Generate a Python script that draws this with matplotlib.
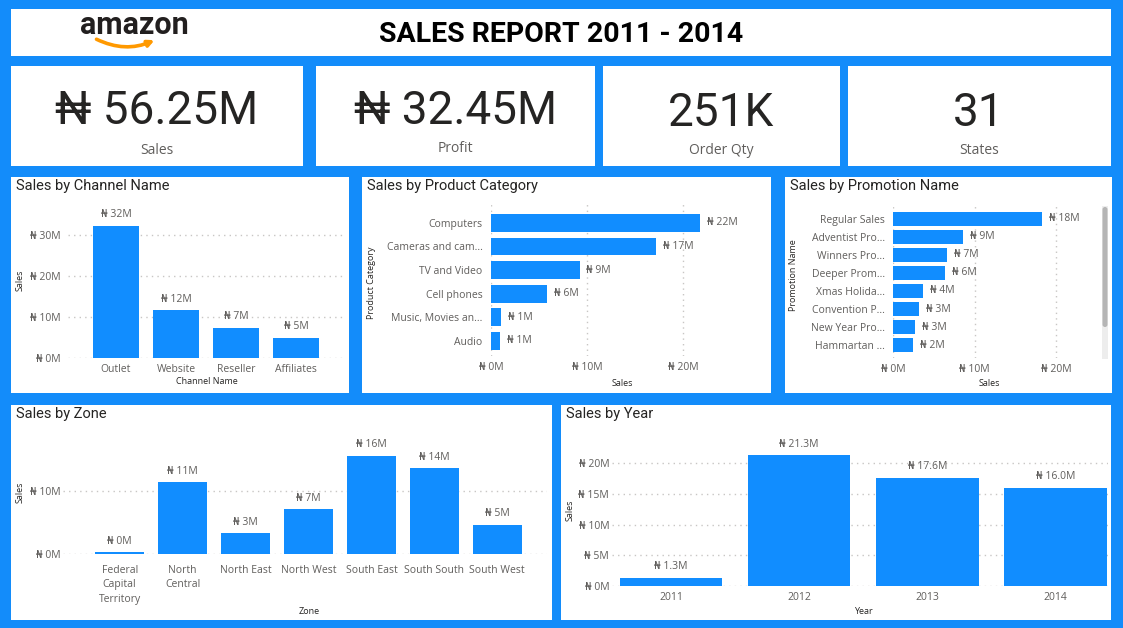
import matplotlib.pyplot as plt
from matplotlib.patches import Rectangle, FancyBboxPatch

W, H = 1123, 628
BG = '#138CFA'
BAR = '#118DFF'
DARK = '#252423'
GREY = '#605E5C'
GRID = '#C8C6C4'

plt.rcParams['font.family'] = ['Open Sans', 'DejaVu Sans']

# ---- data ----
kpi_values = ['₦ 56.25M', '₦ 32.45M', '251K', '31']
kpi_names = ['Sales', 'Profit', 'Order Qty', 'States']

channels = ['Outlet', 'Website', 'Reseller', 'Affiliates']
channel_sales = [32.2, 11.6, 7.3, 4.9]

categories = ['Computers', 'Cameras and cam...', 'TV and Video', 'Cell phones',
              'Music, Movies an...', 'Audio']
category_sales = [21.7, 17.2, 9.2, 5.8, 1.0, 0.95]

promotions = ['Regular Sales', 'Adventist Pro...', 'Winners Pro...', 'Deeper Prom...',
              'Xmas Holida...', 'Convention P...', 'New Year Pro...', 'Hammartan ...']
promotion_sales = [18.3, 8.6, 6.6, 6.4, 3.7, 3.2, 2.7, 2.4]

zones = ['Federal\nCapital\nTerritory', 'North\nCentral', 'North East', 'North West',
         'South East', 'South South', 'South West']
zone_sales = [0.3, 11.4, 3.3, 7.1, 15.6, 13.6, 4.6]

years = ['2011', '2012', '2013', '2014']
year_sales = [1.3, 21.3, 17.6, 16.0]

fig = plt.figure(figsize=(W / 100, H / 100), dpi=100, facecolor=BG)

# background layer in pixel coordinates
bg = fig.add_axes([0, 0, 1, 1])
bg.set_xlim(0, W)
bg.set_ylim(H, 0)
bg.axis('off')

panels = [(11, 9, 1111, 56),
          (11, 66, 303, 166), (316, 66, 595, 166), (603, 66, 840, 166), (848, 66, 1111, 166),
          (11, 177, 349, 393), (362, 177, 771, 393), (785, 177, 1112, 393),
          (11, 405, 552, 620), (561, 405, 1111, 620)]
for x0, y0, x1, y1 in panels:
    bg.add_patch(Rectangle((x0, y0), x1 - x0, y1 - y0, color='white', lw=0))

# header
bg.text(561, 34, 'SALES REPORT 2011 - 2014', fontsize=20.5, fontweight='bold',
        family=['Roboto', 'DejaVu Sans'], color='black', ha='center', va='center')
bg.text(134, 25, 'amazon', fontsize=22, fontweight='bold', family='Roboto',
        color='#221F1F', ha='center', va='center')
bg.annotate('', xy=(157, 39), xytext=(94, 38),
            arrowprops=dict(arrowstyle='-|>', color='#FF9900', lw=2.6,
                            connectionstyle='arc3,rad=0.25', mutation_scale=9))

# KPI cards
kpi_centers = [157, 455, 721, 979]
kpi_value_y = [111, 111, 113, 113]
kpi_label_y = [150, 148, 151, 151]
for cx, vy, ly, v, n in zip(kpi_centers, kpi_value_y, kpi_label_y, kpi_values, kpi_names):
    bg.text(cx, vy, v, fontsize=33, family=['Roboto', 'DejaVu Sans'], color=DARK,
            ha='center', va='center')
    bg.text(cx, ly, n, fontsize=10, color=GREY, ha='center', va='center')

# panel titles
titles = [(16, 186, 'Sales by Channel Name'), (367, 186, 'Sales by Product Category'),
          (790, 186, 'Sales by Promotion Name'), (16, 414, 'Sales by Zone'),
          (566, 414, 'Sales by Year')]
for x, y, t in titles:
    bg.text(x, y, t, fontsize=10.5, family=['Roboto', 'DejaVu Sans'], color=DARK,
            ha='left', va='center')

# axis titles
axis_titles = [(20, 280, 'Sales', 90), (207, 382, 'Channel Name', 0),
               (371, 283, 'Product Category', 90), (622, 383, 'Sales', 0),
               (794, 275, 'Promotion Name', 90), (989, 383, 'Sales', 0),
               (20, 492, 'Sales', 90), (309, 611, 'Zone', 0),
               (570, 510, 'Sales', 90), (863, 611, 'Year', 0)]
for x, y, t, r in axis_titles:
    bg.text(x, y, t, fontsize=6.5, color=DARK, rotation=r, ha='center', va='center')

# scrollbar of the promotion visual
bg.add_patch(Rectangle((1102, 206), 6, 153, color='#EDEDED', lw=0))
bg.add_patch(FancyBboxPatch((1102.5, 207), 5, 120, boxstyle='round,pad=0,rounding_size=2.5',
                            color='#B5B5B5', lw=0))


def px_axes(x0, y0, x1, y1):
    ax = fig.add_axes([x0 / W, 1 - y1 / H, (x1 - x0) / W, (y1 - y0) / H])
    ax.set_facecolor('none')
    for s in ax.spines.values():
        s.set_visible(False)
    ax.tick_params(length=0, colors=GREY, labelsize=7.5)
    return ax


def naira(v, dec=0):
    return f'₦ {v:.{dec}f}M'


def vbars(box, names, vals, xlim, ylim, yticks, width, xpad, ypad, dec=0):
    ax = px_axes(*box)
    x = range(len(names))
    ax.bar(x, vals, width=width, color=BAR, zorder=2)
    ax.set_xlim(*xlim)
    ax.set_ylim(*ylim)
    ax.set_xticks(list(x))
    ax.set_xticklabels(names, fontsize=7.5, color=GREY, linespacing=1.4)
    ax.set_yticks(yticks)
    ax.set_yticklabels([naira(t) for t in yticks], fontsize=7.5, color=GREY)
    ax.tick_params(axis='x', pad=xpad)
    ax.tick_params(axis='y', pad=ypad)
    ax.grid(axis='y', color=GRID, linestyle=(0, (1, 3)), lw=1)
    ax.set_axisbelow(True)
    for i, v in enumerate(vals):
        ax.annotate(naira(v, dec), (i, v), xytext=(0, 4), textcoords='offset points',
                    ha='center', va='bottom', fontsize=7.5, color=GREY)
    return ax


def hbars(box, names, vals, xlim, ylim, xticks, height, ypad):
    ax = px_axes(*box)
    y = range(len(names))
    ax.barh(y, vals, height=height, color=BAR, zorder=2)
    ax.set_xlim(*xlim)
    ax.set_ylim(*ylim)
    ax.set_yticks(list(y))
    ax.set_yticklabels(names, fontsize=7.5, color=GREY)
    ax.set_xticks(xticks)
    ax.set_xticklabels([naira(t) for t in xticks], fontsize=7.5, color=GREY)
    ax.tick_params(axis='y', pad=ypad)
    ax.tick_params(axis='x', pad=4)
    ax.grid(axis='x', color=GRID, linestyle=(0, (1, 3)), lw=1)
    ax.set_axisbelow(True)
    for i, v in enumerate(vals):
        ax.annotate(naira(v), (v, i), xytext=(5, 0), textcoords='offset points',
                    ha='left', va='center', fontsize=7.5, color=GREY)
    return ax


# Sales by Channel Name: centres 116..296 px, 60 px apart; 4.1 px per million
vbars((68, 200, 343, 358), channels, channel_sales,
      xlim=(-0.8, 3.78), ylim=(0, 38.5), yticks=[0, 10, 20, 30],
      width=0.77, xpad=4.5, ypad=5)

# Sales by Product Category: 9.6 px per million, rows 23.6 px apart
hbars((491, 204, 770, 356), categories, category_sales,
      xlim=(0, 29.0), ylim=(5.64, -0.8), xticks=[0, 10, 20], height=0.76, ypad=6)

# Sales by Promotion Name: 8.15 px per million, rows 18 px apart
hbars((893, 204, 1098, 358), promotions, promotion_sales,
      xlim=(0, 25.1), ylim=(7.72, -0.83), xticks=[0, 10, 20], height=0.78, ypad=6)

# Sales by Zone: centres 119.5..497.5 px, 63 px apart; 6.3 px per million
vbars((63, 430, 547, 554), zones, zone_sales,
      xlim=(-0.9, 6.79), ylim=(0, 19.7), yticks=[0, 10],
      width=0.77, xpad=8, ypad=2)

# Sales by Year: centres 671..1055 px, 128 px apart; 6.15 px per million
vbars((612, 430, 1108, 586), years, year_sales,
      xlim=(-0.46, 3.41), ylim=(0, 25.4), yticks=[0, 5, 10, 15, 20],
      width=0.8, xpad=4.5, ypad=2, dec=1)

plt.savefig('out.png', dpi=100, facecolor=BG)
